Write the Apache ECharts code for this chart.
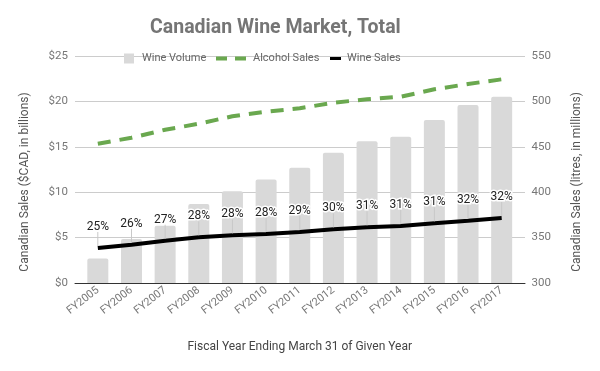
<!DOCTYPE html>
<html><head><meta charset="utf-8">
<script src="https://cdn.jsdelivr.net/npm/echarts@6/dist/echarts.min.js"></script>
<style>html,body{margin:0;padding:0;background:#fff}#c{width:600px;height:371px}</style>
</head><body><div id="c"></div>
<script>
const categories = ['FY2005','FY2006','FY2007','FY2008','FY2009','FY2010','FY2011','FY2012','FY2013','FY2014','FY2015','FY2016','FY2017'];
const wineVolume = [327, 348.5, 363, 387, 401, 414, 427, 443.5, 456, 461, 479.5, 496, 505];
const alcoholSales = [15.34, 16.0, 16.88, 17.54, 18.36, 18.87, 19.24, 19.86, 20.23, 20.52, 21.33, 21.92, 22.43];
const wineSales = [3.85, 4.22, 4.66, 5.03, 5.25, 5.4, 5.62, 5.91, 6.13, 6.28, 6.57, 6.86, 7.16];
const wineShareLabels = ['25%','26%','27%','28%','28%','28%','29%','30%','31%','31%','31%','32%','32%'];

const FONT = 'Roboto';
const chart = echarts.init(document.getElementById('c'), null, {renderer: 'canvas'});
chart.setOption({
  animation: false,
  backgroundColor: '#fff',
  textStyle: {fontFamily: FONT},
  title: {
    text: 'Canadian Wine Market, Total',
    left: 150, top: 18, padding: 0,
    textStyle: {fontFamily: FONT, fontSize: 19.5, fontWeight: 'bold', color: '#757575'}
  },
  legend: [
    {data: ['Wine Volume'], left: 124, top: 53, padding: 0, itemWidth: 10, itemHeight: 10, icon: 'rect',
     textStyle: {fontFamily: FONT, fontSize: 11, color: '#666', padding: [0,0,0,3]}},
    {data: ['Alcohol Sales'], left: 216, top: 53, padding: 0, itemWidth: 30, itemHeight: 4,
     icon: 'path://M0,0h11v4h-11z M19,0h11v4h-11z',
     textStyle: {fontFamily: FONT, fontSize: 11, color: '#666', padding: [0,0,0,2]}},
    {data: ['Wine Sales'], left: 330, top: 53, padding: 0, itemWidth: 11, itemHeight: 3, icon: 'rect',
     textStyle: {fontFamily: FONT, fontSize: 11, color: '#666', padding: [0,0,0,1]}}
  ],
  grid: [
    {left: 81, right: 81.5, top: 56, bottom: 88},
    {left: 75, right: 75, top: 56, bottom: 88}
  ],
  xAxis: [
    {type: 'category', gridIndex: 0, data: categories, boundaryGap: true,
     axisLine: {show: false}, axisTick: {show: false}, splitLine: {show: false},
     axisLabel: {rotate: 38, margin: 6, color: '#777', fontSize: 11, fontFamily: FONT, interval: 0},
     name: 'Fiscal Year Ending March 31 of Given Year', nameLocation: 'middle', nameGap: 58,
     nameTextStyle: {color: '#444', fontSize: 12, fontFamily: FONT}},
    {type: 'value', gridIndex: 1, min: 0, max: 1, axisLine: {show: true, lineStyle: {color: '#333', width: 1}},
     axisTick: {show: false}, axisLabel: {show: false}, splitLine: {show: false}}
  ],
  yAxis: [
    {type: 'value', gridIndex: 0, position: 'left', min: 0, max: 25, interval: 5,
     axisLine: {show: false}, axisTick: {show: false}, splitLine: {show: false},
     axisLabel: {formatter: v => '$' + v, color: '#777', fontSize: 11.5, fontFamily: FONT, margin: 13},
     name: 'Canadian Sales ($CAD, in billions)', nameLocation: 'middle', nameGap: 50,
     nameTextStyle: {color: '#555', fontSize: 12, fontFamily: FONT, padding: [0, 25, 0, 0]}},
    {type: 'value', gridIndex: 0, position: 'right', min: 300, max: 550, interval: 50,
     axisLine: {show: false}, axisTick: {show: false}, splitLine: {show: false},
     axisLabel: {color: '#777', fontSize: 11.5, fontFamily: FONT, margin: 13},
     name: 'Canadian Sales (litres, in millions)', nameLocation: 'middle', nameGap: 52,
     nameTextStyle: {color: '#555', fontSize: 12, fontFamily: FONT, padding: [0, 25, 0, 0], verticalAlign: 'top'}},
    {type: 'value', gridIndex: 1, min: 0, max: 25, interval: 5,
     axisLine: {show: false}, axisTick: {show: false}, axisLabel: {show: false},
     splitLine: {show: true, lineStyle: {color: '#cccccc', width: 1}}}
  ],
  series: [
    {name: 'Wine Volume', type: 'bar', xAxisIndex: 0, yAxisIndex: 1, data: wineVolume,
     barWidth: 21, itemStyle: {color: '#d9d9d9', borderRadius: [2, 2, 0, 0]}, z: 2},
    {name: 'Alcohol Sales', type: 'line', xAxisIndex: 0, yAxisIndex: 0, data: alcoholSales,
     symbol: 'none', color: '#6aa84f',
     lineStyle: {color: '#6aa84f', width: 4, type: [13, 9], cap: 'butt'}, z: 3},
    {name: 'Wine Sales', type: 'line', xAxisIndex: 0, yAxisIndex: 0, data: wineSales,
     symbol: 'none', color: '#000',
     lineStyle: {color: '#000', width: 4}, z: 3},
    {name: 'Wine Share', type: 'custom', xAxisIndex: 0, yAxisIndex: 0,
     data: wineSales.map((v, i) => [i, v]), z: 5, silent: true,
     renderItem: function (params, api) {
       const p = api.coord([api.value(0), api.value(1)]);
       return {type: 'group', children: [
         {type: 'line', shape: {x1: p[0], y1: p[1] - 2, x2: p[0], y2: p[1] - 16},
          style: {stroke: '#c8c8c8', lineWidth: 1}},
         {type: 'text', x: p[0], y: p[1] - 21,
          style: {text: wineShareLabels[params.dataIndex], align: 'center', verticalAlign: 'middle',
                  fill: '#222', stroke: '#fff', lineWidth: 3, font: '12px Roboto'}}
       ]};
     }}
  ]
});
</script></body></html>
